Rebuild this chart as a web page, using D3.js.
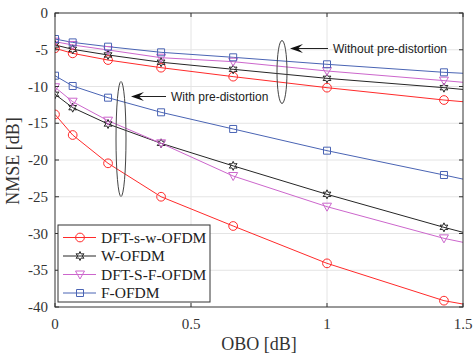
<!DOCTYPE html>
<html><head><meta charset="utf-8">
<script src="https://cdn.jsdelivr.net/npm/d3@7"></script>
<style>body{margin:0;background:#fff}svg{display:block}</style>
</head><body>
<svg id="c" width="474" height="357"></svg>
<script>
const obo = [0, 0.065, 0.195, 0.39, 0.655, 1.0, 1.43, 1.5];
const seriesNames = ["DFT-s-w-OFDM", "W-OFDM", "DFT-S-F-OFDM", "F-OFDM"];
// without pre-distortion
const dftswNo = [-4.8, -5.49, -6.4, -7.44, -8.66, -10.16, -11.84, -12.07];
const wofdmNo = [-4.35, -4.94, -5.71, -6.7, -7.66, -8.89, -10.16, -10.4];
const dftsfNo = [-3.9, -4.35, -5.03, -6.08, -6.62, -7.89, -9.2, -9.43];
const fofdmNo = [-3.54, -4.0, -4.58, -5.35, -6.03, -6.98, -8.07, -8.2];
// with pre-distortion
const dftswPd = [-13.8, -16.6, -20.45, -25.0, -28.98, -34.06, -39.14, -39.6];
const wofdmPd = [-11.06, -12.88, -15.1, -17.73, -20.8, -24.67, -29.16, -29.84];
const dftsfPd = [-10.1, -12.07, -14.65, -17.73, -22.18, -26.35, -30.66, -31.2];
const fofdmPd = [-8.53, -9.93, -11.52, -13.51, -15.78, -18.73, -22.04, -22.6];
const xTicks = [0, 0.5, 1, 1.5];
const yTicks = [0, -5, -10, -15, -20, -25, -30, -35, -40];

const colors = ["#ff2a2a", "#262626", "#cc66cc", "#4a64b4"];
const markers = ["circle", "hexagram", "triangle", "square"];
const seriesNo = [dftswNo, wofdmNo, dftsfNo, fofdmNo];
const seriesPd = [dftswPd, wofdmPd, dftsfPd, fofdmPd];

const svg = d3.select("#c");
const L = 55, R = 463, T = 13, B = 307;
const x = d3.scaleLinear().domain([0, 1.5]).range([L, R]);
const y = d3.scaleLinear().domain([-40, 0]).range([B, T]);
const serif = "'Liberation Serif','Times New Roman',serif";
const sans = "'Liberation Sans',Arial,sans-serif";

svg.append("defs").append("clipPath").attr("id", "clip")
  .append("rect").attr("x", L).attr("y", T).attr("width", R - L).attr("height", B - T);

// grid
const g = svg.append("g");
g.selectAll(".gx").data(xTicks.slice(1, -1)).join("line")
  .attr("x1", d => x(d)).attr("x2", d => x(d)).attr("y1", T).attr("y2", B)
  .attr("stroke", "#e4e4e4").attr("stroke-width", 1);
g.selectAll(".gy").data(yTicks.slice(1, -1)).join("line")
  .attr("y1", d => y(d)).attr("y2", d => y(d)).attr("x1", L).attr("x2", R)
  .attr("stroke", "#e4e4e4").attr("stroke-width", 1);

function markerPath(type) {
  if (type === "circle") return d3.symbol(d3.symbolCircle, 60)();
  if (type === "square") return "M-3.5,-3.5H3.5V3.5H-3.5Z";
  if (type === "triangle") return "M-4.5,-3.5L4.5,-3.5L0,4.5Z";
  // hexagram
  let p = "";
  for (let i = 0; i < 12; i++) {
    const r = i % 2 === 0 ? 4.5 : 2.3;
    const a = Math.PI / 2 + i * Math.PI / 6;
    p += (i ? "L" : "M") + (r * Math.cos(a)).toFixed(2) + "," + (-r * Math.sin(a)).toFixed(2);
  }
  return p + "Z";
}

const line = d3.line().x((d, i) => x(obo[i])).y(d => y(d));
const plot = svg.append("g").attr("clip-path", "url(#clip)");
[seriesNo, seriesPd].forEach(group => {
  group.forEach((vals, s) => {
    plot.append("path").datum(vals).attr("d", line)
      .attr("fill", "none").attr("stroke", colors[s]).attr("stroke-width", 1);
  });
});
[seriesNo, seriesPd].forEach(group => {
  group.forEach((vals, s) => {
    plot.selectAll(null).data(vals.map((v, i) => [obo[i], v]).filter(d => d[0] < 1.5)).join("path")
      .attr("transform", d => `translate(${x(d[0])},${y(d[1])})`)
      .attr("d", markerPath(markers[s]))
      .attr("fill", "none").attr("stroke", colors[s]).attr("stroke-width", 1);
  });
});

// box and ticks
const ax = svg.append("g").attr("stroke", "#333").attr("stroke-width", 1).attr("fill", "none");
ax.append("rect").attr("x", L).attr("y", T).attr("width", R - L).attr("height", B - T);
xTicks.forEach(t => {
  ax.append("line").attr("x1", x(t)).attr("x2", x(t)).attr("y1", B).attr("y2", B - 4);
  ax.append("line").attr("x1", x(t)).attr("x2", x(t)).attr("y1", T).attr("y2", T + 4);
});
yTicks.forEach(t => {
  ax.append("line").attr("y1", y(t)).attr("y2", y(t)).attr("x1", L).attr("x2", L + 4);
  ax.append("line").attr("y1", y(t)).attr("y2", y(t)).attr("x1", R).attr("x2", R - 4);
});
svg.selectAll(".xt").data(xTicks).join("text")
  .attr("x", d => x(d)).attr("y", B + 22).attr("text-anchor", "middle")
  .attr("font-family", serif).attr("font-size", 15).attr("fill", "#333").text(d => d);
svg.selectAll(".yt").data(yTicks).join("text")
  .attr("x", L - 7).attr("y", d => y(d) + 5).attr("text-anchor", "end")
  .attr("font-family", serif).attr("font-size", 15).attr("fill", "#333").text(d => d);
svg.append("text").attr("x", (L + R) / 2).attr("y", 350).attr("text-anchor", "middle")
  .attr("font-family", serif).attr("font-size", 18).attr("fill", "#333").text("OBO [dB]");
svg.append("text").attr("transform", "translate(19,161) rotate(-90)").attr("text-anchor", "middle")
  .attr("font-family", serif).attr("font-size", 18).attr("fill", "#333").text("NMSE [dB]");

// annotations
function arrow(x1, x2, yy) {
  svg.append("line").attr("x1", x1 + 8).attr("x2", x2).attr("y1", yy).attr("y2", yy)
    .attr("stroke", "#222").attr("stroke-width", 1);
  svg.append("path").attr("d", `M${x1},${yy}L${x1 + 13},${yy - 4.5}L${x1 + 8},${yy}L${x1 + 13},${yy + 4.5}Z`)
    .attr("fill", "#111");
}
svg.append("ellipse").attr("cx", 282).attr("cy", 72).attr("rx", 5).attr("ry", 31.5)
  .attr("fill", "none").attr("stroke", "#444").attr("stroke-width", 1);
arrow(290, 328, 48.5);
svg.append("text").attr("x", 333).attr("y", 53).attr("font-family", sans).attr("font-size", 12)
  .attr("fill", "#222").text("Without pre-distortion");
svg.append("ellipse").attr("cx", 121).attr("cy", 139).attr("rx", 5).attr("ry", 57.5)
  .attr("fill", "none").attr("stroke", "#444").attr("stroke-width", 1);
arrow(131, 166, 96.5);
svg.append("text").attr("x", 171).attr("y", 101).attr("font-family", sans).attr("font-size", 12)
  .attr("fill", "#222").text("With pre-distortion");

// legend
const lg = svg.append("g");
lg.append("rect").attr("x", 58).attr("y", 225).attr("width", 152).attr("height", 77)
  .attr("fill", "#fff").attr("stroke", "#333").attr("stroke-width", 1);
seriesNames.forEach((n, i) => {
  const yy = 237.5 + i * 18.5;
  lg.append("line").attr("x1", 63).attr("x2", 96).attr("y1", yy).attr("y2", yy)
    .attr("stroke", colors[i]).attr("stroke-width", 1);
  lg.append("path").attr("transform", `translate(80,${yy})`).attr("d", markerPath(markers[i]))
    .attr("fill", "none").attr("stroke", colors[i]).attr("stroke-width", 1);
  lg.append("text").attr("x", 101).attr("y", yy + 5).attr("font-family", serif).attr("font-size", 15.5)
    .attr("fill", "#222").text(n);
});
</script>
</body></html>
